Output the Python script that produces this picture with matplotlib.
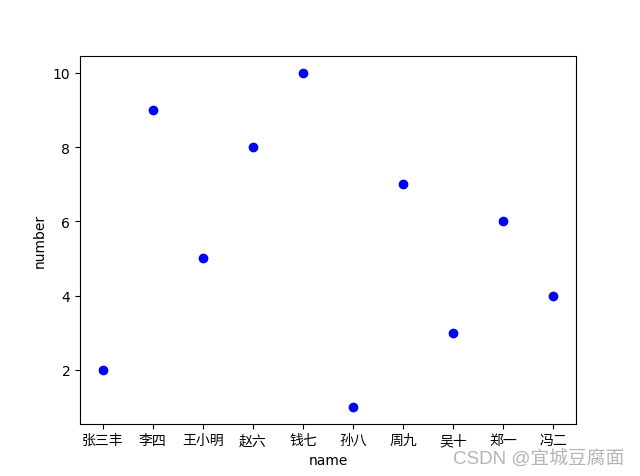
import matplotlib
matplotlib.use('Agg')
import matplotlib.pyplot as plt

plt.rcParams['font.family'] = ['DejaVu Sans', 'Noto Sans CJK SC']

# names on x axis and their numbers
names = ['张三丰', '李四', '王小明', '赵六', '钱七', '孙八', '周九', '吴十', '郑一', '冯二']
numbers = [2, 9, 5, 8, 10, 1, 7, 3, 6, 4]

fig = plt.figure(figsize=(6.4, 4.77), dpi=100)
ax = fig.add_subplot(111)

# scatter of the numbers
ax.scatter(names, numbers, c='b')

ax.set_xlabel('name')
ax.set_ylabel('number')

# site watermark
fig.text(0.975, 0.018, 'CSDN @宜城豆腐面', ha='right', va='bottom',
         fontsize=13.5, color='#b4b4b4',
         family=['Liberation Sans', 'Noto Sans CJK SC'])

fig.savefig('out.png', dpi=100)
